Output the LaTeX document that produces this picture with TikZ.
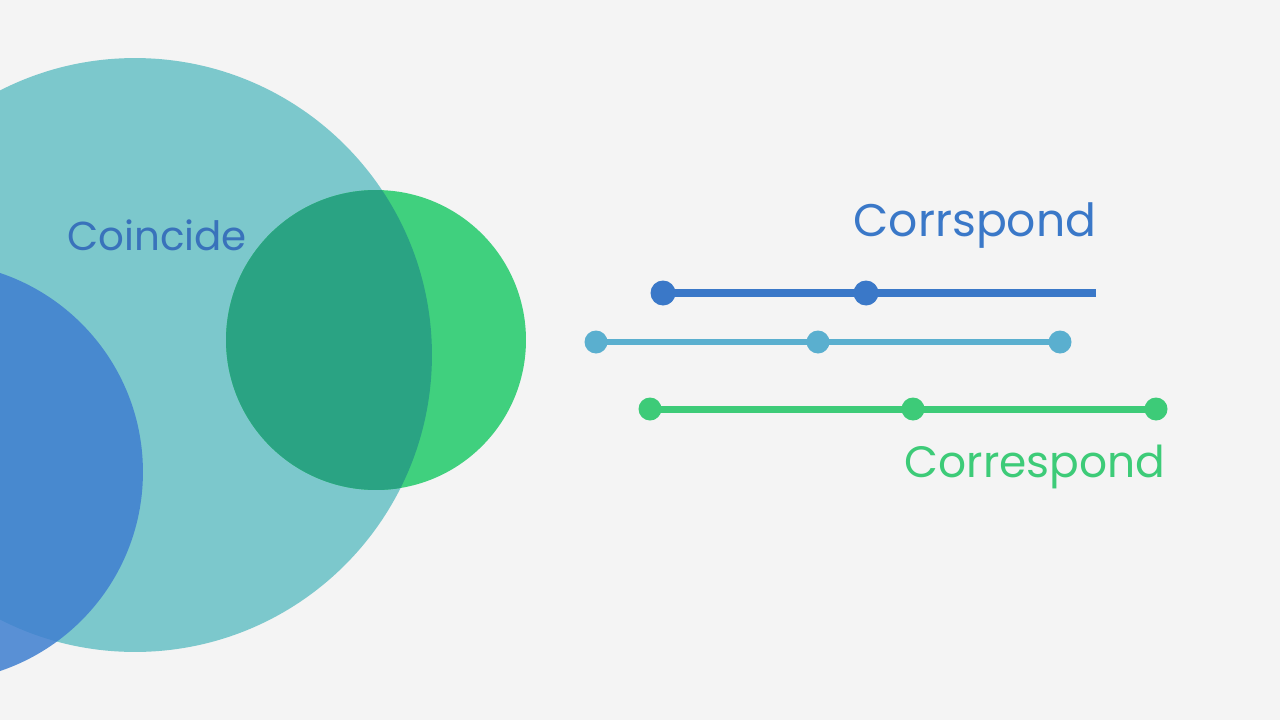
\documentclass[tikz,border=0pt]{standalone}
\usepackage{fontspec}
\setmainfont{Poppins}
\begin{document}
\begin{tikzpicture}[x=0.02cm,y=-0.02cm,
  dot/.style={circle,inner sep=0pt,minimum size=#1},
  lbl/.style={font=\fontsize{23}{28}\selectfont}]
\definecolor{bg}{HTML}{F4F4F4}
\definecolor{tealc}{HTML}{7CC8CC}
\definecolor{bluec}{HTML}{3F7FD0}
\definecolor{greenc}{HTML}{40D07E}
\definecolor{darkg}{HTML}{2AA383}
\definecolor{lblue}{HTML}{3A78C8}
\definecolor{lteal}{HTML}{5AAFCF}
\definecolor{lgreen}{HTML}{3DCB78}
\fill[bg] (0,0) rectangle (1280,720);
\useasboundingbox (0,0) rectangle (1280,720);
\begin{scope}
\clip (0,0) rectangle (1280,720);
\fill[tealc] (135,355) circle[radius=5.94cm];
\fill[bluec,opacity=0.85] (-67,472) circle[radius=4.2cm];
\fill[greenc] (376,340) circle[radius=3cm];
\begin{scope}
\clip (135,355) circle[radius=5.94cm];
\fill[darkg] (376,340) circle[radius=3cm];
\end{scope}
\end{scope}
\node[lbl,text=bluec!90!black] (coin) at (157,235) {Coincide};
\node[lbl,text=lblue,font=\fontsize{26}{32}\selectfont] (t1) at (975,226) {Corrspond};
\node[lbl,text=lgreen,font=\fontsize{25}{30}\selectfont] (t2) at (1035,467) {Correspond};
% blue line
\coordinate (b1) at (663,293);
\coordinate (b2) at (866,293);
\coordinate (b3) at (1096,293);
\draw[lblue,line width=0.16cm] (b1) -- (b2) -- (b3);
\node[dot=0.5cm,fill=lblue] at (b1) {};
\node[dot=0.5cm,fill=lblue] at (b2) {};
% teal line
\coordinate (c1) at (596,342);
\coordinate (c2) at (818,342);
\coordinate (c3) at (1060,342);
\draw[lteal,line width=0.12cm] (c1) -- (c2) -- (c3);
\foreach \p in {c1,c2,c3} \node[dot=0.46cm,fill=lteal] at (\p) {};
% green line
\coordinate (g1) at (650,409);
\coordinate (g2) at (913,409);
\coordinate (g3) at (1156,409);
\draw[lgreen,line width=0.14cm] (g1) -- (g2) -- (g3);
\foreach \p in {g1,g2,g3} \node[dot=0.46cm,fill=lgreen] at (\p) {};
\end{tikzpicture}
\end{document}
